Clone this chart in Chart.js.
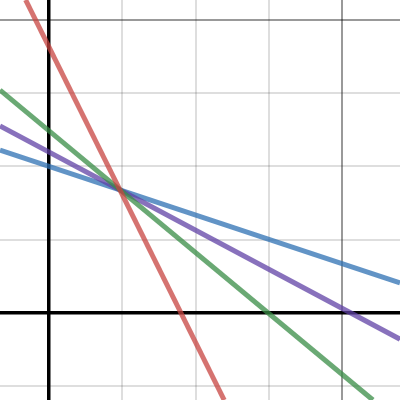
<!DOCTYPE html>
<html>
<head>
<meta charset="utf-8">
<script src="https://cdn.jsdelivr.net/npm/chart.js@4"></script>
<style>
  html, body { margin: 0; padding: 0; background: #fff; }
  #wrap { width: 400px; height: 400px; }
</style>
</head>
<body>
<div id="wrap"><canvas id="graph" width="400" height="400"></canvas></div>
<script>
// Visible window of the graph (graph units)
const X_RANGE = [-0.67, 4.79];
const Y_RANGE = [-1.19, 4.27];

const redX = [-0.32, 2.39];
const redY = [4.27, -1.19];
const greenX = [-0.67, 4.42];
const greenY = [3.04, -1.19];
const purpleX = [-0.67, 4.79];
const purpleY = [2.55, -0.36];
const blueX = [-0.67, 4.79];
const blueY = [2.22, 0.41];

const LINES = [
    { x: redX, y: redY, color: 'rgba(199, 68, 64, 0.75)' },
    { x: greenX, y: greenY, color: 'rgba(56, 140, 70, 0.75)' },
    { x: purpleX, y: purpleY, color: 'rgba(96, 66, 166, 0.75)' },
    { x: blueX, y: blueY, color: 'rgba(45, 112, 179, 0.75)' },
];

// gridline look: axis at 0, darker line every 4 units, light otherwise
function gridColor(ctx) {
    const v = ctx.tick && ctx.tick.value;
    if (v === 0) return '#000';
    if (v % 4 === 0) return 'rgba(0, 0, 0, 0.4)';
    return 'rgba(0, 0, 0, 0.13)';
}
function gridWidth(ctx) {
    const v = ctx.tick && ctx.tick.value;
    if (v === 0) return 3.5;
    return 2;
}

function axis(range) {
    return {
        type: 'linear',
        min: range[0],
        max: range[1],
        border: { display: false },
        ticks: { display: false, stepSize: 1, includeBounds: false },
        grid: { drawTicks: false, color: gridColor, lineWidth: gridWidth },
    };
}

new Chart(document.getElementById('graph'), {
    type: 'scatter',
    data: {
        datasets: LINES.map(l => ({
            data: l.x.map((x, i) => ({ x, y: l.y[i] })),
            showLine: true,
            borderColor: l.color,
            borderWidth: 5,
            pointRadius: 0,
            pointHoverRadius: 0,
        })),
    },
    options: {
        responsive: false,
        animation: false,
        events: [],
        layout: { padding: 0 },
        plugins: { legend: { display: false }, tooltip: { enabled: false } },
        scales: { x: axis(X_RANGE), y: axis(Y_RANGE) },
    },
});
</script>
</body>
</html>
